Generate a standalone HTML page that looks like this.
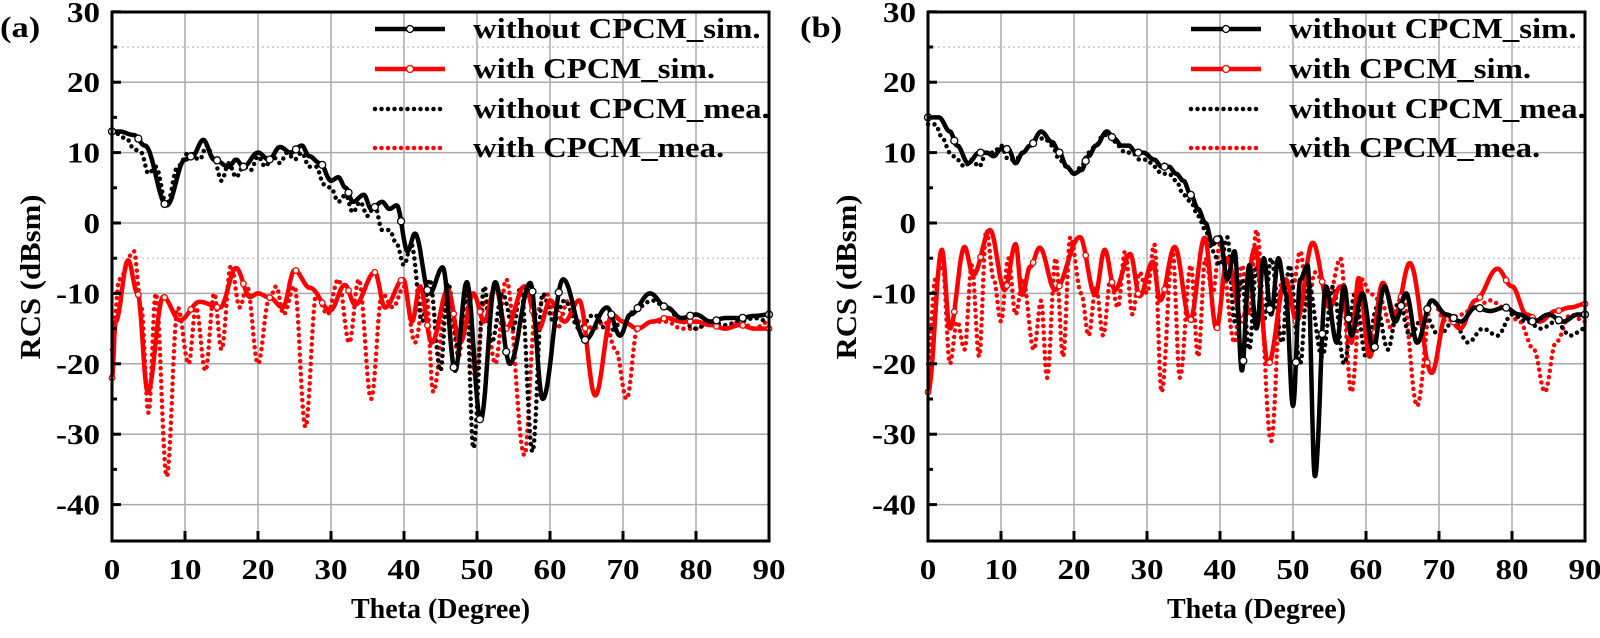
<!DOCTYPE html>
<html><head><meta charset="utf-8">
<style>
html,body{margin:0;padding:0;background:#fff;}
svg{display:block;}
text{font-family:"Liberation Serif",serif;font-weight:bold;fill:#000;}
</style></head>
<body>
<svg id="s" width="1600" height="638" xmlns="http://www.w3.org/2000/svg"></svg>
<script>
const S=document.getElementById('s');
let out='';
const A={
bs:[[0,13],[1,13],[3,12.5],[4.5,11],[7.5,2.5],[10,9],[11,9.5],[12.5,11.8],[14,9],[16,8],[17,9],[18,8],[20,10],[21.5,9],[23,10.8],[24.5,10],[26,11],[27,9.5],[28.5,8.5],[30,6],[31,6.5],[32,5],[33,3],[34.5,4],[35.5,2],[37,3],[38,2],[39,2.5],[40.5,-4],[41.5,-1.5],[43.5,-10],[45.3,-6.3],[47,-21],[48.6,-8.4],[50.5,-28],[52.5,-8.4],[54.5,-20],[57.3,-8.5],[59,-25],[61.8,-8],[64.8,-16.6],[67.8,-12],[69.6,-16],[71,-13],[73.7,-10],[76,-12],[78,-13.5],[80,-13],[82,-14],[84,-13.5],[86,-13.5],[88,-13.2],[90,-13]],
bm:[[0,13],[2,12],[3,10.5],[4,10],[5,7],[6,8],[7.5,2.5],[9,8],[10.5,10],[12,9],[13,11],[14,9],[15,6],[16,8.5],[17,6.5],[18,8],[19,7.5],[20,9.5],[21,8],[22,9.5],[23,8.5],[24,10],[25,9],[26,10],[27,8],[28,8],[29,5.5],[30,5],[31,3],[32,4],[33,1.5],[34,3],[35,1],[36,2.5],[37,-1],[38,-1],[39,-3],[40,-6],[41,-3],[42.5,-14],[43.5,-8],[45,-21],[46,-8.5],[47.5,-18],[48.5,-9],[49.5,-32],[51,-9],[52,-17],[53.5,-10],[55,-15],[56,-9],[57.6,-32.5],[59,-10],[60.5,-14],[62,-11],[64,-15],[66,-13],[68,-15.5],[70,-14],[72,-12],[74,-11],[76,-12],[78,-14],[80,-15],[82,-14],[84,-14.5],[86,-14],[88,-13.5],[90,-14]],
rs:[[0,-22],[0.5,-14],[2.2,-5.3],[3.5,-10],[4.9,-24],[7,-10.5],[9.3,-13.8],[12,-11.2],[14.8,-12],[17,-6.4],[18.9,-10.5],[20,-10],[21.6,-10.6],[23.4,-12],[25,-6.7],[27.1,-9.2],[29.9,-12.4],[31.9,-8.8],[33.3,-11.6],[36,-7],[37.4,-12],[39.9,-8],[41.1,-14],[42.2,-9],[43.8,-17],[46,-9.5],[47.7,-17],[49.5,-10],[51,-14],[52.5,-9],[54,-15],[56.5,-9],[58.5,-15],[60,-11],[62,-14],[64,-11],[66.2,-24.5],[68.5,-13],[70,-14],[72,-15],[74,-14],[76,-13.5],[78,-14],[80,-14],[82,-14.5],[84,-15],[86,-14.5],[88,-15],[90,-15]],
rm:[[0,-18],[1,-8],[3,-4],[4,-12],[5,-27],[6,-10],[7.5,-36],[9,-12],[10.5,-20],[11.5,-12],[12.8,-21],[14,-10],[15,-18],[16.3,-6],[17.5,-12],[18.5,-9],[20,-20],[21.5,-11],[22.5,-9],[23.5,-13],[25,-9],[26.5,-29],[28,-10],[29.5,-13],[31,-8],[32.5,-17],[33.8,-8],[35.5,-25],[37,-10],[38.5,-12],[40,-9],[41.5,-17],[43,-9],[44,-24],[46,-9],[47.5,-19],[48.5,-10],[49.8,-22],[51,-11],[52.5,-20],[54,-8],[56.5,-33],[58,-13],[59.5,-10],[61,-15],[62.5,-11],[64,-14],[66,-15],[67.5,-14],[69,-18],[70.5,-25],[72,-15],[74,-14],[76,-14],[78,-15],[80,-15],[82,-14],[84,-15],[86,-14],[88,-15],[90,-14]]
};
const B={
bs:[[0,15],[1.5,15],[3,13],[4,11],[5.5,8.5],[7,10],[8,10],[9,9.5],[10,10.5],[11,10.5],[12,8.5],[13,10],[14,11],[15.5,13],[17,11.5],[18,10],[19,8],[20,7],[21,7.5],[22,9.5],[23,11],[24.5,13],[25.5,12],[26.5,11],[27.5,11],[28.5,10],[29.5,10],[31,9],[32,8],[33,8],[34,7],[35,6],[36,4],[37,2],[38,0],[39,-3],[40,-2],[41,-8],[42,-4],[43,-21],[44,-6],[45,-15],[46,-5],[47,-13],[48,-5],[49,-10],[50,-26],[51,-8],[52,-6],[53,-36],[54.5,-9],[56,-17],[57,-9],[58,-16],[59.5,-10],[61,-18],[62.5,-9],[64,-14],[65.5,-10],[67,-17],[69,-11],[71,-13],[73,-14],[75,-12],[77,-12.5],[79,-12],[81,-13],[83,-14],[85,-13],[87,-14],[89,-13],[90,-13]],
bm:[[0,14],[1,14],[2,12],[3,10],[4,9],[5,8],[6,9],[7,8],[8,10],[9,10],[10,11],[11,9],[12,9],[13,10],[14,11],[15,12],[16,12],[17,11],[18,9],[19,8],[20,7],[21,8],[22,10],[23,11],[24,12.5],[25,12.5],[26,11],[27,10],[28,10],[29,9],[30,9],[31,8],[32,7],[33,7],[34,6],[35,4],[36,3],[37,1],[38,-1],[39,-4],[40,-6],[41,-2],[42,-14],[43,-8],[44,-18],[45,-6],[46,-14],[47,-5],[48.5,-17],[49.5,-6],[51,-20],[52,-8],[54,-19],[55.5,-9],[57,-20],[58.5,-10],[60,-19],[61.5,-12],[63,-18],[64.5,-11],[66,-16],[68,-13],[70,-16],[72,-14],[74,-17],[76,-15],[78,-16],[80,-13],[82,-14],[84,-15],[86,-14],[88,-16],[90,-15]],
rs:[[0,-24],[1.9,-3.8],[3,-15],[5,-3.4],[6.2,-7.4],[8.5,-1],[10.5,-9.5],[12,-3],[12.9,-10.2],[14,-6.2],[15.3,-3.5],[17.4,-9.5],[20.8,-2],[22.9,-10.2],[24.2,-3.8],[25.6,-9.5],[27.7,-4.4],[29,-10.4],[30.8,-5.5],[31.8,-11],[33.8,-3.4],[35.9,-13.8],[37.9,-2.1],[39.5,-15],[41,-5],[43,-14],[44.8,-3.5],[46.6,-20],[49,-8],[50.5,-14],[52.7,-2.8],[55,-12],[56.5,-9],[58,-17],[59,-7.8],[60.5,-19],[62.3,-8.5],[64,-13],[66,-5.7],[69,-21.3],[71,-13],[72.9,-15],[75,-11],[78,-6.5],[80,-9],[82,-13],[83.8,-14],[86,-12.5],[88,-12],[90,-11.5]],
rm:[[0,-20],[1,-8],[2,-6],[3,-20],[4,-14],[5,-18],[6,-6],[7,-19],[8,-1],[9,-8],[10,-14],[11,-5],[12,-13],[13,-8],[14.5,-18],[15.5,-11],[16.3,-22],[17.5,-5],[18.5,-19],[19.5,-2],[21,-10],[22,-16],[23,-9],[24,-16],[25,-8],[26,-12],[27,-4],[28,-13],[29,-7],[30,-10],[31,-3],[32,-24],[33.5,-4],[34.5,-22],[36,-6],[37,-19],[38,-5],[39,-10],[40,-3],[42,-17],[43,-6],[44,-13],[45,-1],[47,-31],[48.5,-8],[50,-9],[51,-4],[52,-12],[53,-7],[55,-10],[56.5,-5],[58,-24],[59.5,-8],[60.5,-10],[62,-11],[63.5,-15],[65,-10],[67,-26],[69,-11],[71,-14],[73,-13],[75,-12],[77,-11],[79,-12],[81,-14],[83,-18],[84.5,-24],[86,-17],[88,-13],[90,-14]]
};
function interp(pts,t){
  for(let i=0;i<pts.length-1;i++){const a=pts[i],b=pts[i+1];
    if(t>=a[0]&&t<=b[0]){const u=(t-a[0])/(b[0]-a[0]);const e=(1-Math.cos(Math.PI*u))/2;return a[1]+(b[1]-a[1])*e;}}
  return pts[pts.length-1][1];
}
function T(x,y,size,anchor,str,sx){
  sx=sx||1.18;
  return `<text transform="translate(${x},${y}) scale(${sx},1)" font-size="${size}" text-anchor="${anchor}">${str}</text>`;
}
function panel(L,D,lab,labx){
  const R=L+657,Tp=12,Bt=541;
  const X=t=>L+t*7.3, Y=v=>223-7.04*v;
  for(let t=10;t<90;t+=10) out+=`<line x1="${X(t)}" y1="${Tp}" x2="${X(t)}" y2="${Bt}" stroke="#aaa" stroke-width="1.5"/>`;
  for(let v=-40;v<30;v+=10) out+=`<line x1="${L}" y1="${Y(v)}" x2="${R}" y2="${Y(v)}" stroke="#aaa" stroke-width="1.5"/>`;
  for(const v of [25,-5]) out+=`<line x1="${L}" y1="${Y(v)}" x2="${R}" y2="${Y(v)}" stroke="#bbb" stroke-width="1.2" stroke-dasharray="2 3"/>`;
  function path(pts,col,dotted){
    let d='';
    for(let t=0;t<=90.001;t+=0.08){d+=(d?'L':'M')+X(t).toFixed(1)+','+Y(interp(pts,t)).toFixed(1);}
    if(dotted) return `<path d="${d}" fill="none" stroke="${col}" stroke-width="4.5" stroke-linecap="round" stroke-dasharray="0 6.5"/>`;
    return `<path d="${d}" fill="none" stroke="${col}" stroke-width="4.5" stroke-linejoin="round"/>`;
  }
  function marks(pts,col,r){
    let s='';for(let t=0;t<=90;t+=3.6){s+=`<circle cx="${X(t)}" cy="${Y(interp(pts,t))}" r="${r}" fill="#fff" stroke="${col}" stroke-width="1.3"/>`;}return s;
  }
  out+=path(D.rm,'#f00',true);
  out+=path(D.bm,'#000',true);
  out+=path(D.rs,'#f00',false);
  out+=marks(D.rs,'#f00',2.8);
  out+=path(D.bs,'#000',false);
  out+=marks(D.bs,'#000',3.5);
  const lx=L+263, tx=L+361, rows=[38,78,118,157];
  const leg=[['without CPCM_sim.','#000',0],['with CPCM_sim.','#f00',0],['without CPCM_mea.','#000',1],['with CPCM_mea.','#f00',1]];
  leg.forEach((g,i)=>{const y=rows[i]-9;
    if(g[2]) out+=`<line x1="${lx}" y1="${y}" x2="${lx+70}" y2="${y}" stroke="${g[1]}" stroke-width="4.5" stroke-linecap="round" stroke-dasharray="0 6.5"/>`;
    else {out+=`<line x1="${lx}" y1="${y}" x2="${lx+70}" y2="${y}" stroke="${g[1]}" stroke-width="4.5"/><circle cx="${lx+35}" cy="${y}" r="3.5" fill="#fff" stroke="${g[1]}" stroke-width="1.3"/>`;}
    out+=T(tx,rows[i],29,'start',g[0],1.13);
  });
  out+=`<rect x="${L}" y="${Tp}" width="${R-L}" height="${Bt-Tp}" fill="none" stroke="#000" stroke-width="3"/>`;
  for(let v=-40;v<=30;v+=10){out+=`<line x1="${L}" y1="${Y(v)}" x2="${L+9}" y2="${Y(v)}" stroke="#000" stroke-width="3"/>`;
    out+=T(L-12,Y(v)+10,28,'end',v);}
  for(let v=-35;v<30;v+=10) out+=`<line x1="${L}" y1="${Y(v)}" x2="${L+5}" y2="${Y(v)}" stroke="#000" stroke-width="3"/>`;
  for(let t=0;t<=90;t+=10){out+=`<line x1="${X(t)}" y1="${Bt}" x2="${X(t)}" y2="${Bt-10}" stroke="#000" stroke-width="3"/>`;
    out+=T(X(t),Bt+38,28,'middle',t);}
  out+=T((L+R)/2,618,28,'middle','Theta (Degree)',1.0);
  out+=`<text transform="translate(${L-72},277) rotate(-90) scale(1.1,1)" font-size="28" text-anchor="middle">RCS (dBsm)</text>`;
  out+=T(labx,37,30,'start',lab,1.15);
}
panel(112,A,'(a)',0);
panel(928,B,'(b)',800);
S.innerHTML=out;
</script>
</body></html>
